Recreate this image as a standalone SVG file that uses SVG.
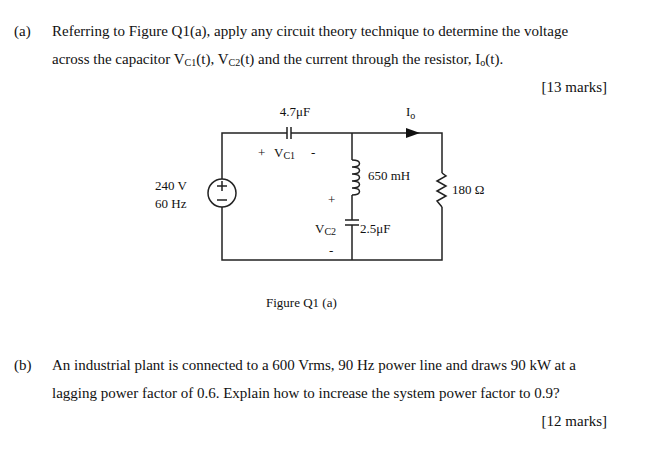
<svg xmlns="http://www.w3.org/2000/svg" width="666" height="470" viewBox="0 0 666 470">
<style>
text{font-family:"Liberation Serif",serif;font-size:15px;fill:#111}
.s{font-size:13px}
.sub{font-size:10px}
.w{stroke:#222;stroke-width:1.5;fill:none}
</style>
<rect width="666" height="470" fill="#fff"/>
<text x="14" y="36">(a)</text>
<text x="52" y="36">Referring to Figure Q1(a), apply any circuit theory technique to determine the voltage</text>
<text x="52" y="64">across the capacitor V<tspan class="sub" dy="2">C1</tspan><tspan dy="-2">(t), V</tspan><tspan class="sub" dy="2">C2</tspan><tspan dy="-2">(t) and the current through the resistor, I</tspan><tspan class="sub" dy="2">o</tspan><tspan dy="-2">(t).</tspan></text>
<text x="607" y="92" text-anchor="end">[13 marks]</text>
<g id="connectors">
<path class="w" d="M222,179 V133 H287 M291,133 H442 V173 M442,207 V260 H222 V207 M352,133 V160 M352,195 V220 M352,225 V260"/>
<path d="M406,128 L420,133 L406,138 Z" fill="#111"/>
</g>
<g id="C1"><path class="w" d="M287,127 V139 M291,127 V139"/>
<text x="295" y="116" text-anchor="middle" class="s">4.7μF</text>
<text x="258" y="157" class="s">+</text><text x="274" y="157" class="s">V<tspan class="sub" dy="2">C1</tspan></text><text x="311" y="157" class="s">-</text></g>
<g id="source"><circle cx="222" cy="193" r="14" class="w"/>
<path class="w" d="M222,181 V191 M217,186 H227 M217,200 H227"/>
<text x="155" y="190" class="s">240 V</text><text x="155" y="208" class="s">60 Hz</text></g>
<g id="L"><path class="w" d="M352,160 c10,0 10,7 0,7 c10,0 10,7 0,7 c10,0 10,7 0,7 c10,0 10,7 0,7 c10,0 10,7 0,7"/>
<text x="368" y="180" class="s">650 mH</text></g>
<g id="C2"><path class="w" d="M345,220 H359 M345,225 H359"/>
<text x="328" y="204" class="s">+</text>
<text x="315" y="233" class="s">V<tspan class="sub" dy="2">C2</tspan></text>
<text x="360" y="233" class="s">2.5μF</text>
<text x="329" y="255" class="s">-</text></g>
<g id="R"><path class="w" d="M442,173 L446,176 L437,181 L446,186 L437,191 L446,196 L437,201 L442,207"/>
<text x="452" y="194" class="s">180 Ω</text></g>
<text x="406" y="116" class="s">I<tspan class="sub" dy="3">o</tspan></text>
<text x="266" y="307" class="s">Figure Q1 (a)</text>
<text x="14" y="370">(b)</text>
<text x="52" y="370">An industrial plant is connected to a 600 Vrms, 90 Hz power line and draws 90 kW at a</text>
<text x="52" y="398">lagging power factor of 0.6. Explain how to increase the system power factor to 0.9?</text>
<text x="607" y="426" text-anchor="end">[12 marks]</text>
</svg>
